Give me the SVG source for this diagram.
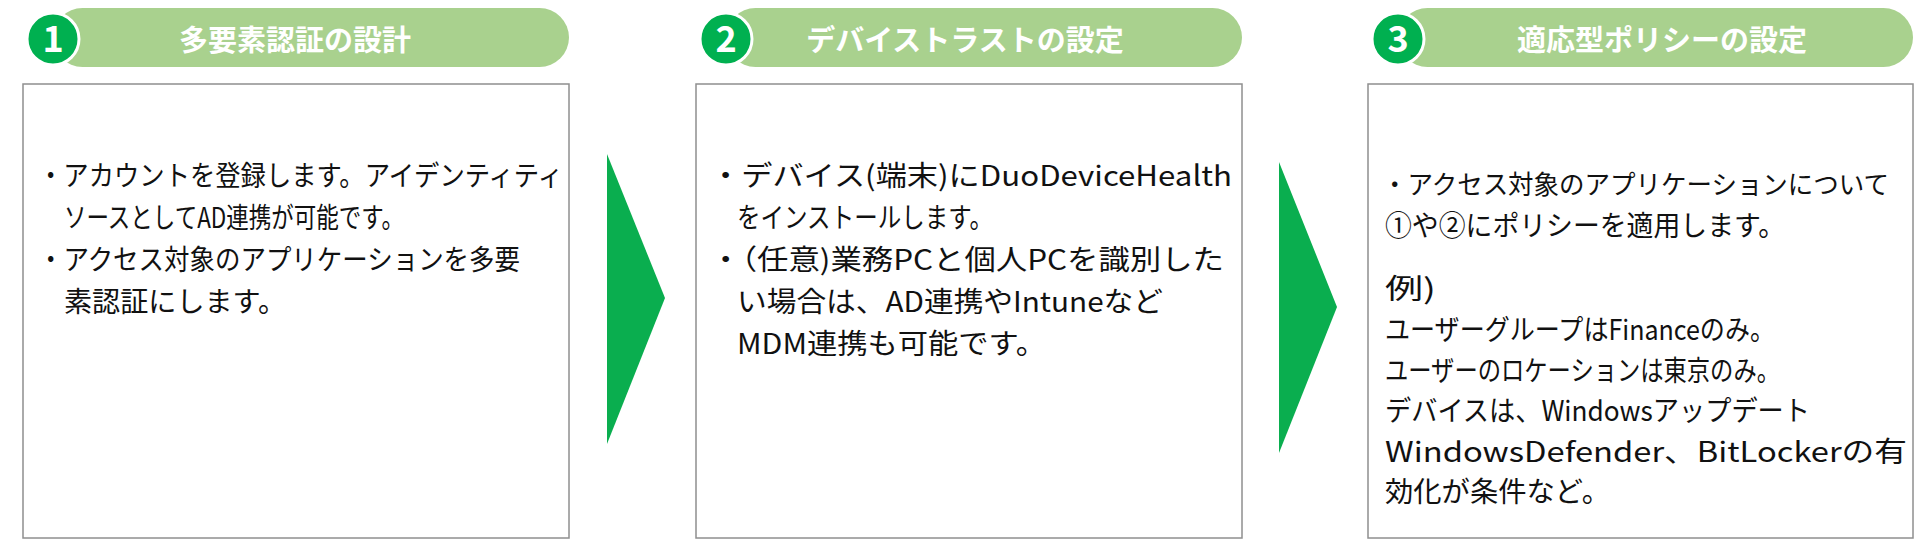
<svg xmlns="http://www.w3.org/2000/svg" width="1920" height="547" viewBox="0 0 1920 547">
<defs>
<style>
.box{fill:#ffffff;stroke:#8f8f8f;stroke-width:1.5}
.pill{fill:#a9d18e}
.num{fill:#00b050;stroke:#ffffff;stroke-width:3}
.numt{font-family:"Noto Sans CJK JP","Noto Sans",sans-serif;font-size:36px;font-weight:700;fill:#ffffff;text-anchor:middle}
.ttl{font-family:"Noto Sans CJK JP",sans-serif;font-size:29px;font-weight:700;fill:#ffffff;text-anchor:middle}
.bd{font-family:"Noto Sans CJK JP",sans-serif;font-size:28px;fill:#111111}
.arr{fill:#0aae4f}
</style>
</defs>
<rect width="1920" height="547" fill="#ffffff"/>
<g id="step1">
<rect class="box" x="23" y="84" width="546" height="454"/>
<rect class="pill" x="53" y="8" width="516" height="59" rx="29.5"/>
<circle class="num" cx="53" cy="39" r="26"/>
<text class="numt" x="53" y="52">1</text>
<text class="ttl" x="295" y="51">多要素認証の設計</text>
<text class="bd" x="38" y="186" textLength="525" lengthAdjust="spacingAndGlyphs">・アカウントを登録します。アイデンティティ</text>
<text class="bd" x="64" y="228" textLength="340" lengthAdjust="spacingAndGlyphs">ソースとしてAD連携が可能です。</text>
<text class="bd" x="38" y="270" textLength="482" lengthAdjust="spacingAndGlyphs">・アクセス対象のアプリケーションを多要</text>
<text class="bd" x="64" y="312" textLength="222" lengthAdjust="spacingAndGlyphs">素認証にします。</text>
</g>
<g id="step2">
<rect class="box" x="696" y="84" width="546" height="454"/>
<rect class="pill" x="726" y="8" width="516" height="59" rx="29.5"/>
<circle class="num" cx="726" cy="39" r="26"/>
<text class="numt" x="726" y="52">2</text>
<text class="ttl" x="965" y="51">デバイストラストの設定</text>
<text class="bd" x="710" y="186" textLength="522" lengthAdjust="spacingAndGlyphs">・デバイス(端末)にDuoDeviceHealth</text>
<text class="bd" x="737" y="228" textLength="256" lengthAdjust="spacingAndGlyphs">をインストールします。</text>
<text class="bd" x="710" y="270" textLength="514" lengthAdjust="spacingAndGlyphs">・（任意)業務PCと個人PCを識別した</text>
<text class="bd" x="737" y="312" textLength="426" lengthAdjust="spacingAndGlyphs">い場合は、AD連携やIntuneなど</text>
<text class="bd" x="737" y="354" textLength="309" lengthAdjust="spacingAndGlyphs">MDM連携も可能です。</text>
</g>
<g id="step3">
<rect class="box" x="1368" y="84" width="545" height="454"/>
<rect class="pill" x="1398" y="8" width="515" height="59" rx="29.5"/>
<circle class="num" cx="1398" cy="39" r="26"/>
<text class="numt" x="1398" y="52">3</text>
<text class="ttl" x="1662" y="51">適応型ポリシーの設定</text>
<text class="bd" x="1382" y="194" font-size="26.5" textLength="507" lengthAdjust="spacingAndGlyphs" style="font-size:26.5px">・アクセス対象のアプリケーションについて</text>
<text class="bd" x="1385" y="236" textLength="400" lengthAdjust="spacingAndGlyphs">①や②にポリシーを適用します。</text>
<text class="bd" x="1385" y="299" textLength="51" lengthAdjust="spacingAndGlyphs">例)</text>
<text class="bd" x="1385" y="340" textLength="390" lengthAdjust="spacingAndGlyphs">ユーザーグループはFinanceのみ。</text>
<text class="bd" x="1385" y="381" textLength="395" lengthAdjust="spacingAndGlyphs">ユーザーのロケーションは東京のみ。</text>
<text class="bd" x="1385" y="421" textLength="425" lengthAdjust="spacingAndGlyphs">デバイスは、Windowsアップデート</text>
<text class="bd" x="1385" y="462" textLength="522" lengthAdjust="spacingAndGlyphs">WindowsDefender、BitLockerの有</text>
<text class="bd" x="1385" y="502" textLength="225" lengthAdjust="spacingAndGlyphs">効化が条件など。</text>
</g>
<g id="connectors">
<polygon class="arr" points="607,154 665,298 607,444"/>
<polygon class="arr" points="1279,162 1337,307 1279,453"/>
</g>
</svg>
